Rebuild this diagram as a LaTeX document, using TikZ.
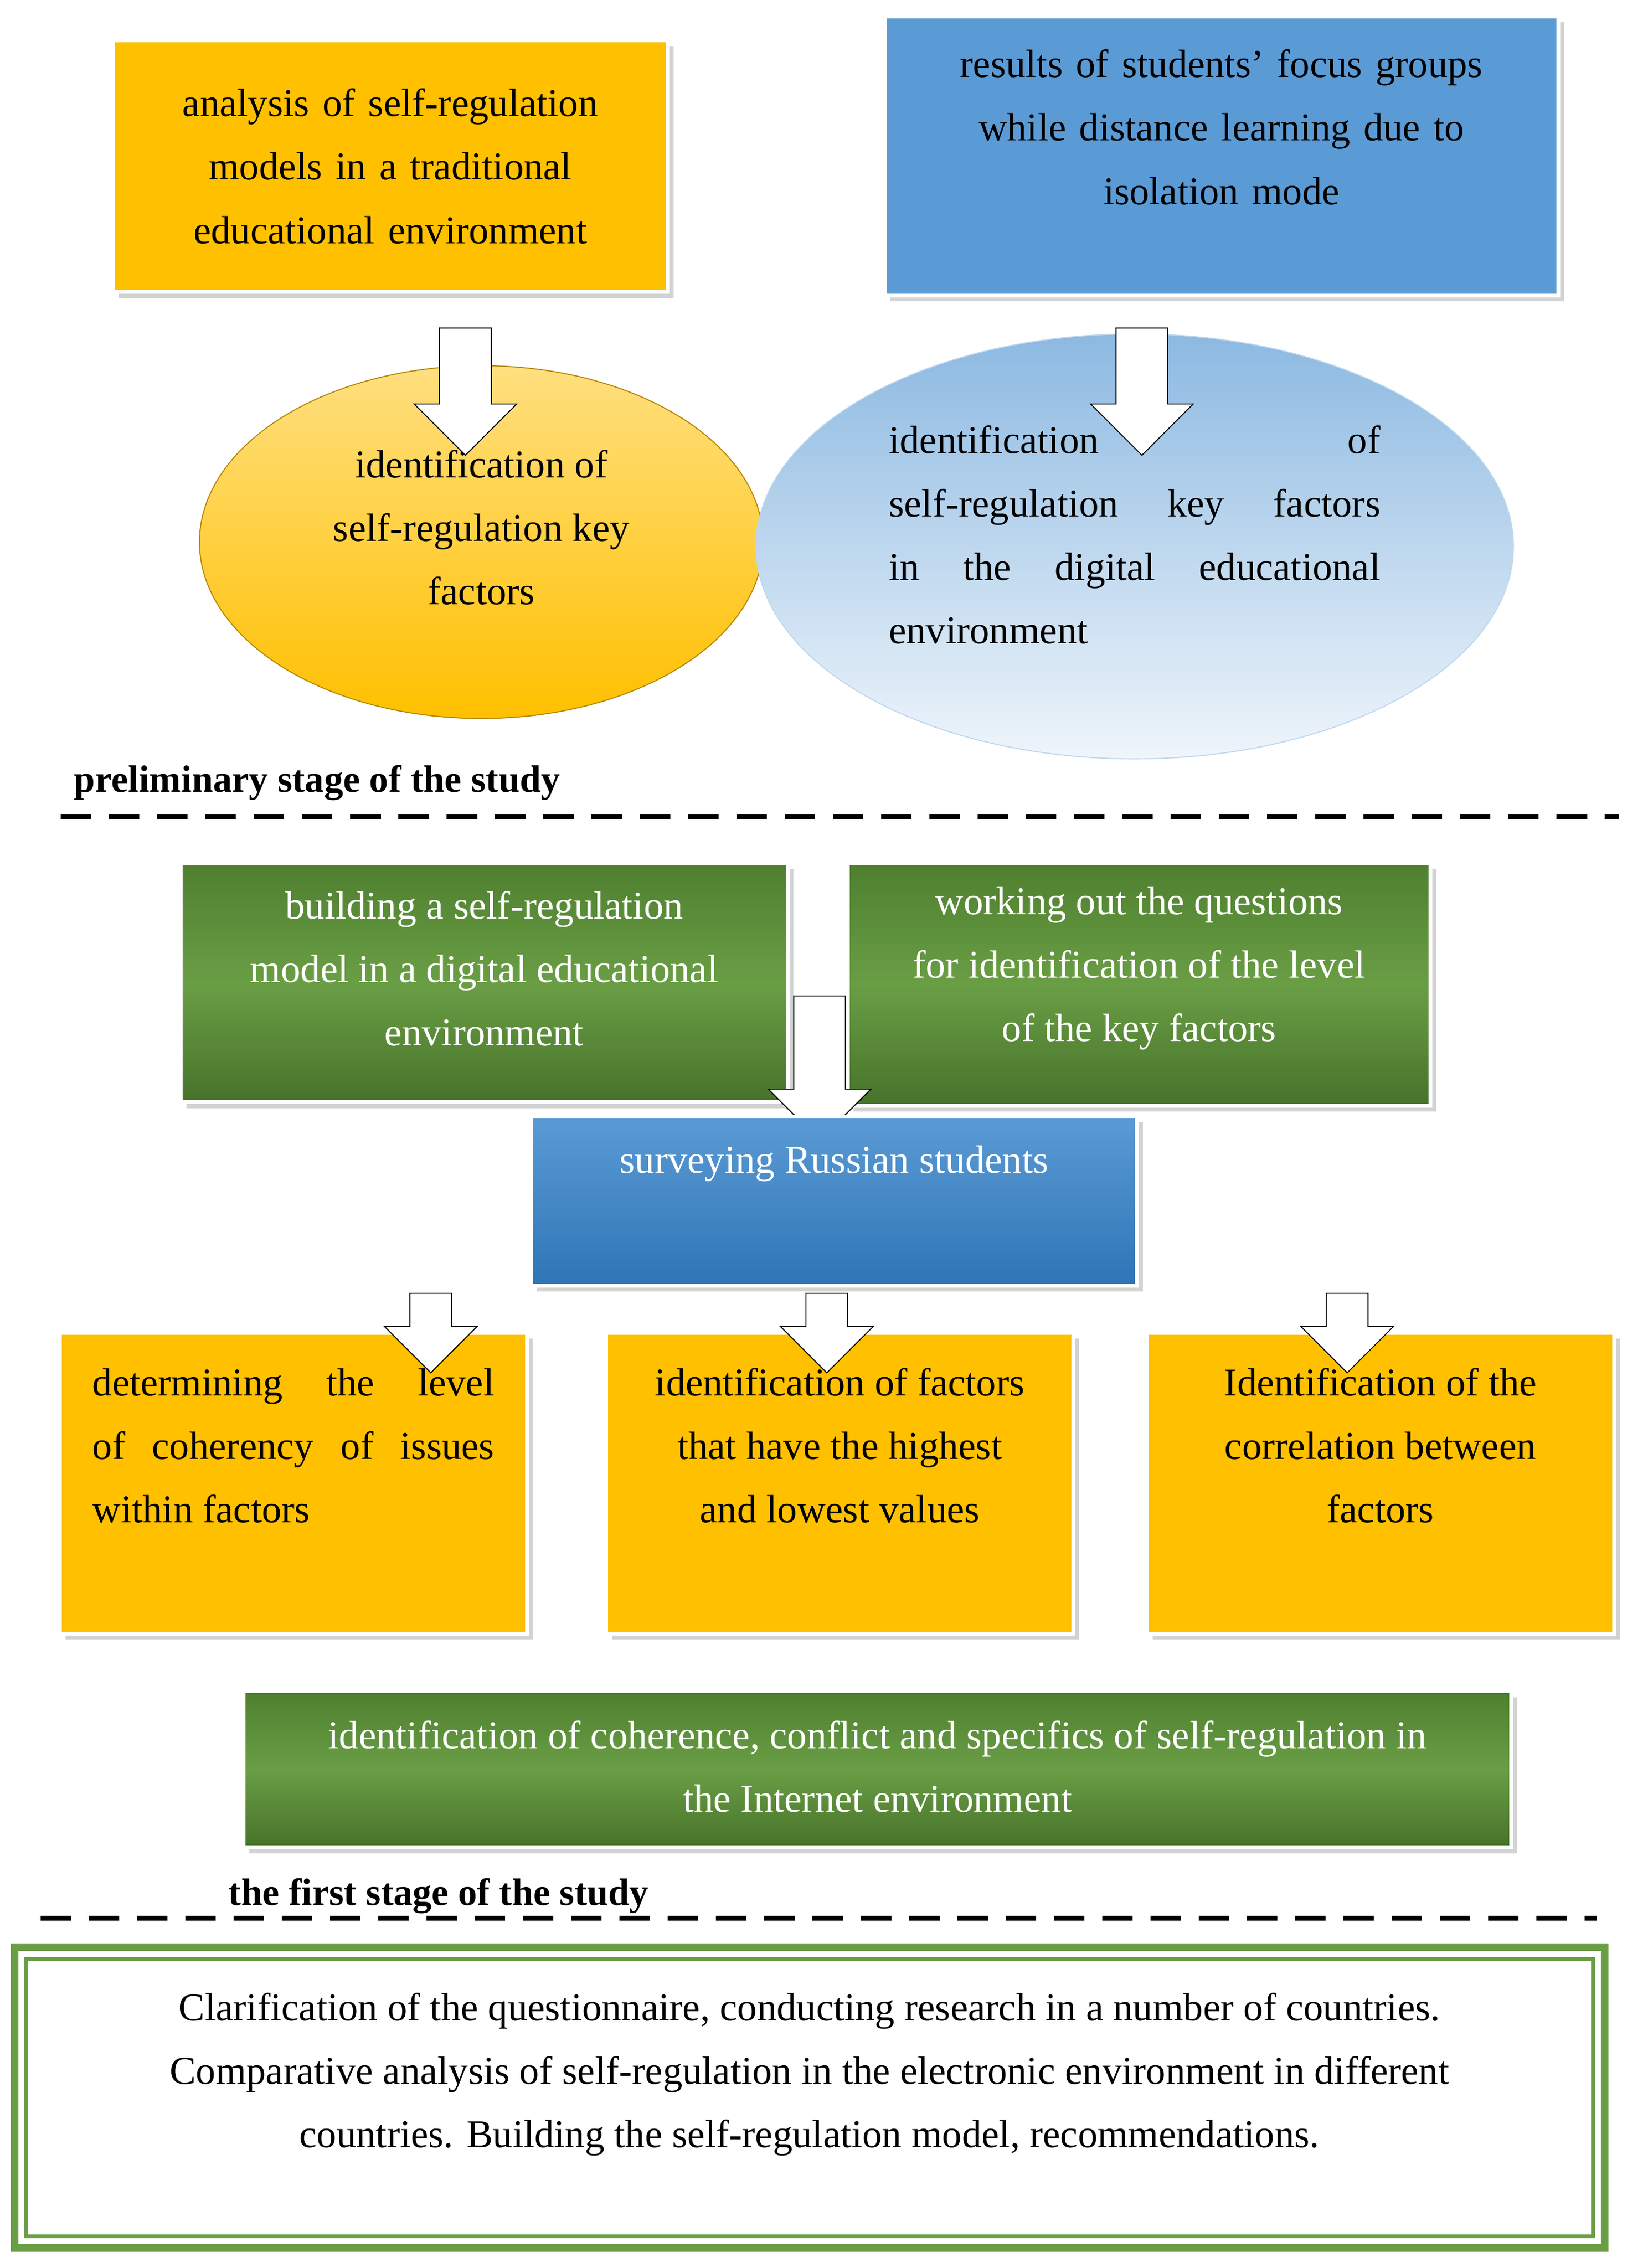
\documentclass[tikz,border=0pt]{standalone}
\usepackage{fontspec}
\setmainfont{Liberation Serif}
\usetikzlibrary{shapes.geometric,shapes.arrows,shadows}
\definecolor{gold}{HTML}{FFC000}
\definecolor{skyb}{HTML}{5B9BD5}
\definecolor{leaf}{HTML}{4E7F2F}
\definecolor{lgreen}{HTML}{6A9E45}
\definecolor{midb}{HTML}{2E75B6}
\tikzset{
  txt/.style={font=\fontsize{15.5}{25}\selectfont, align=center},
  box/.style={draw=white, line width=1.5pt, drop shadow={opacity=0.35}, inner sep=0pt},
  gbox/.style={box, top color=leaf, bottom color=leaf!90!black, middle color=lgreen},
  fat/.style={single arrow, draw=black, fill=white, shape border rotate=270,
    single arrow head extend=10pt, minimum width=40pt, inner sep=10pt},
  stage/.style={font=\fontsize{15}{16}\selectfont\bfseries, anchor=base west},
  sep/.style={dashed, line width=2pt, dash pattern=on 12pt off 7pt}
}
\begin{document}
\begin{tikzpicture}[x=0.02cm,y=-0.02cm]
  \useasboundingbox (0,0) rectangle (1140,1569);

  % Preliminary stage
  \node[box, fill=gold, minimum width=384*0.02cm, minimum height=174*0.02cm] (analysis) at (270,115) {};
  \node[txt, text width=340*0.02cm] at (analysis) {analysis of self-regulation\\ models in a traditional\\ educational environment};
  \node[box, fill=skyb, minimum width=466*0.02cm, minimum height=193*0.02cm] (focus) at (845,108) {};
  \node[txt, text width=440*0.02cm] at (845,88) {results of students' focus groups\\ while distance learning due to\\ isolation mode};

  \node[ellipse, draw=gold!70!black, top color=gold!50, bottom color=gold, minimum width=390*0.02cm, minimum height=244*0.02cm] (keyA) at (333,375) {};
  \node[txt] at (333,365) {identification of\\ self-regulation key\\ factors};
  \node[ellipse, draw=skyb!40, top color=skyb!70, bottom color=skyb!10, minimum width=524*0.02cm, minimum height=294*0.02cm] (keyB) at (785,378) {};
  \node[font=\fontsize{15.5}{25}\selectfont, align=justify, text width=340*0.02cm] at (785,370)
    {identification \hfill of\\ self-regulation \hfill key \hfill factors\\ in \hfill the \hfill digital \hfill educational\\ environment};

  \node[fat, minimum height=88*0.02cm] (arrA) at (322,262) {};
  \node[fat, minimum height=88*0.02cm] (arrB) at (790,262) {};

  \node[stage] (pre) at (45,548) {preliminary stage of the study};
  \coordinate (dashAl) at (42,565);
  \coordinate (dashAr) at (1120,565);
  \draw[sep] (dashAl) -- (dashAr);

  % First stage
  \node[gbox, minimum width=420*0.02cm, minimum height=165*0.02cm] (model) at (335,680) {};
  \node[txt, text=white] at (335,670) {building a self-regulation\\ model in a digital educational\\ environment};
  \node[gbox, minimum width=403*0.02cm, minimum height=168*0.02cm] (quest) at (788,681) {};
  \node[txt, text=white] at (788,670) {working out the questions\\ for identification of the level\\ of the key factors};

  \node[fat, minimum height=100*0.02cm] (arrC) at (567,730) {};

  \node[box, top color=skyb, bottom color=midb, minimum width=419*0.02cm, minimum height=117*0.02cm] (survey) at (577,831) {};
  \node[txt, text=white] at (577,805) {surveying Russian students};

  \foreach \bx/\nm in {203/lvl, 581/hilo, 955/corr} {
    \node[box, fill=gold, minimum width=323*0.02cm, minimum height=208*0.02cm] (\nm) at (\bx,1026) {};
  }
  \node[font=\fontsize{15.5}{25}\selectfont, align=justify, text width=278*0.02cm] at (203,1000)
    {determining \hfill the \hfill level\\ of \hfill coherency \hfill of \hfill issues\\ within factors};
  \node[txt] at (581,1000) {identification of factors\\ that have the highest\\ and lowest values};
  \node[txt] at (955,1000) {Identification of the\\ correlation between\\ factors};
  \foreach \ax in {298,572,932} {
    \node[fat, minimum height=55*0.02cm, minimum width=34pt, inner sep=8pt] at (\ax,915) {};
  }

  \node[gbox, minimum width=877*0.02cm, minimum height=108*0.02cm] (coher) at (607,1224) {};
  \node[txt, text=white] at (607,1222) {identification of coherence, conflict and specifics of self-regulation in\\ the Internet environment};

  \node[stage] (first) at (152,1318) {the first stage of the study};
  \coordinate (dashBl) at (28,1327);
  \coordinate (dashBr) at (1105,1327);
  \draw[sep] (dashBl) -- (dashBr);

  % Second stage
  \node[draw=lgreen, line width=3pt, minimum width=1100*0.02cm, minimum height=208*0.02cm] (outer) at (560,1451) {};
  \node[draw=lgreen, line width=1.5pt, minimum width=1084*0.02cm, minimum height=192*0.02cm] (inner) at (560,1451) {};
  \node[txt] at (560,1435) {Clarification of the questionnaire, conducting research in a number of countries.\\ Comparative analysis of self-regulation in the electronic environment in different\\ countries. Building the self-regulation model, recommendations.};
\end{tikzpicture}
\end{document}
